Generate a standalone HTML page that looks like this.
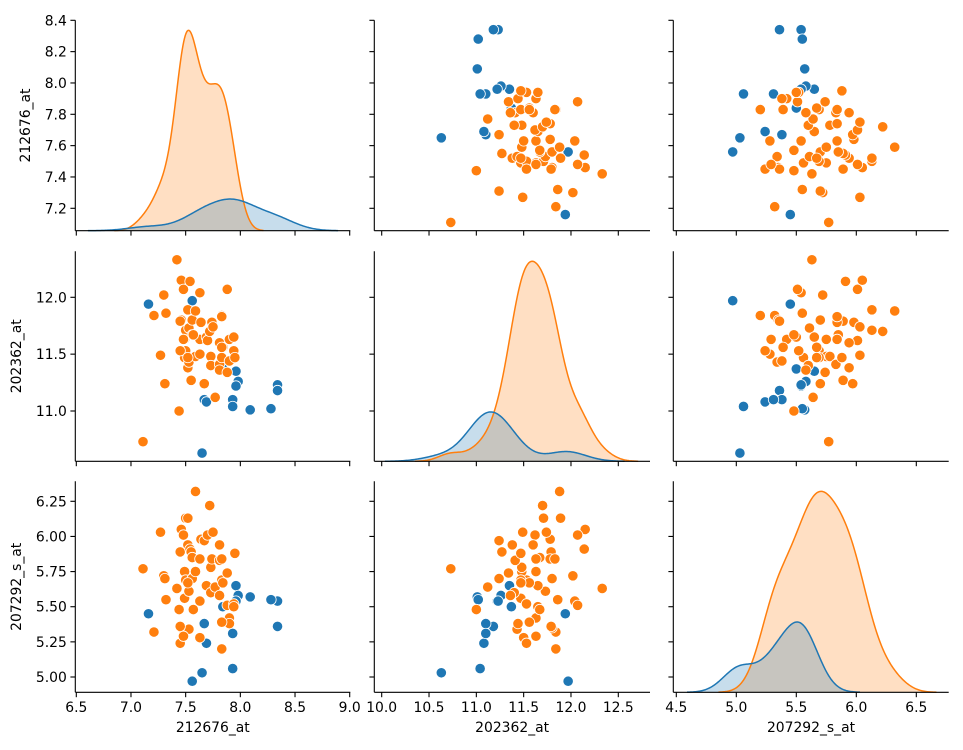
<!DOCTYPE html>
<html><head><meta charset="utf-8">
<style>
html,body{margin:0;padding:0;background:#fff;}
svg{display:block;font-family:"DejaVu Sans","Liberation Sans",sans-serif;}
</style></head>
<body>
<svg id="chart" width="963" height="750" viewBox="0 0 963 750" xmlns="http://www.w3.org/2000/svg"></svg>
<script>
// ---- data: variables 212676_at, 202362_at, 207292_s_at ----
const varNames = ["212676_at", "202362_at", "207292_s_at"];
const blueA = [7.16,7.56,7.96,7.98,7.96,8.34,8.34,7.67,7.69,7.93,7.93,8.09,8.28,7.65,7.84];
const blueB = [11.94,11.97,11.35,11.26,11.22,11.23,11.18,11.10,11.08,11.10,11.04,11.01,11.02,10.63,11.37];
const blueC = [5.45,4.97,5.65,5.58,5.54,5.54,5.36,5.38,5.24,5.31,5.06,5.57,5.55,5.03,5.50];
const orangeA = [7.11,7.21,7.27,7.30,7.31,7.32,7.42,7.44,7.45,7.46,7.46,7.48,7.49,7.49,7.50,7.50,7.52,7.52,7.53,7.53,7.54,7.55,7.56,7.56,7.59,7.59,7.63,7.63,7.63,7.64,7.67,7.69,7.70,7.72,7.73,7.73,7.74,7.75,7.77,7.81,7.81,7.81,7.83,7.83,7.83,7.84,7.88,7.88,7.90,7.90,7.94,7.94,7.95,7.45,7.45,7.48,7.52,7.57,7.83];
const orangeB = [10.73,11.84,11.49,12.02,11.24,11.86,12.33,11.00,11.79,12.15,11.80,12.07,11.63,11.47,11.71,11.53,11.89,11.38,11.73,11.43,12.14,11.27,11.67,11.80,11.48,11.88,12.04,11.63,11.50,11.78,11.24,11.65,11.62,11.70,11.48,11.40,11.78,11.74,11.12,11.60,11.41,11.36,11.84,11.83,11.47,11.56,12.07,11.34,11.63,11.44,11.53,11.65,11.47,11.79,11.53,11.63,11.47,11.67,11.56];
const orangeC = [5.77,5.32,6.03,5.72,5.70,5.55,5.63,5.48,5.89,6.05,5.35,6.01,5.75,5.56,6.13,5.69,6.13,5.94,5.61,5.34,5.91,5.89,5.85,5.70,5.75,6.32,5.54,5.84,5.28,5.98,5.97,5.65,6.01,6.22,5.78,5.60,5.84,6.03,5.64,5.94,5.83,5.58,5.20,5.84,5.69,5.67,5.51,5.74,5.42,5.38,5.52,5.50,5.88,5.36,5.24,5.29,5.67,5.48,5.39];
const xTicks0 = [6.5,7.0,7.5,8.0,8.5,9.0];
const xTicks1 = [10.0,10.5,11.0,11.5,12.0,12.5];
const xTicks2 = [4.5,5.0,5.5,6.0,6.5];
const yTicks0 = [7.2,7.4,7.6,7.8,8.0,8.2,8.4];
const yTicks1 = [11.0,11.5,12.0];
const yTicks2 = [5.00,5.25,5.50,5.75,6.00,6.25];

const NS = "http://www.w3.org/2000/svg";
const svg = document.getElementById("chart");
function mk(tag, attrs, parent) {
  const e = document.createElementNS(NS, tag);
  for (const k in attrs) e.setAttribute(k, attrs[k]);
  (parent || svg).appendChild(e);
  return e;
}
function lin(d0, d1, r0, r1) { return v => r0 + (v - d0) * (r1 - r0) / (d1 - d0); }

// axis geometry
const colPx = [[75.3,350.3],[374.3,650],[673.3,948.7]];
const rowPx = [[20.3,230.7],[251.3,461.3],[481.3,692.3]];
const xScale = [lin(6.5,9.0,76.3,349.7), lin(10,12.5,381.7,618.3), lin(4.5,6.5,676.3,916.3)];
const yScale = [lin(8.4,7.2,20.3,208.3), lin(12,11,297.3,411), lin(6.25,5.0,501.3,677)];
const xTicks = [xTicks0, xTicks1, xTicks2];
const yTicks = [yTicks0, yTicks1, yTicks2];
const xFmt = [v=>v.toFixed(1), v=>v.toFixed(1), v=>v.toFixed(1)];
const yFmt = [v=>v.toFixed(1), v=>v.toFixed(1), v=>v.toFixed(2)];
const blue = [blueA, blueB, blueC];
const orange = [orangeA, orangeB, orangeC];
const BLUE = "#1f77b4", ORANGE = "#ff7f0e";

function kde(vals, N) {
  const n = vals.length;
  const m = vals.reduce((s,v)=>s+v,0)/n;
  const sd = Math.sqrt(vals.reduce((s,v)=>s+(v-m)*(v-m),0)/(n-1));
  const bw = sd * Math.pow(n, -0.2);
  const lo = Math.min(...vals) - 3*bw, hi = Math.max(...vals) + 3*bw;
  const pts = [];
  for (let i = 0; i <= 200; i++) {
    const x = lo + (hi-lo)*i/200;
    let d = 0;
    for (const v of vals) d += Math.exp(-0.5*((x-v)/bw)**2);
    d = d / (n*bw*Math.sqrt(2*Math.PI)) * (n/N);
    pts.push([x,d]);
  }
  return pts;
}

const N = blueA.length + orangeA.length;
for (let r = 0; r < 3; r++) {
  for (let c = 0; c < 3; c++) {
    const g = mk("g", {});
    
    
    const [x0,x1] = colPx[c], [y0,y1] = rowPx[r];
    const xs = xScale[c], ys = yScale[r];
    if (r === c) {
      const kb = kde(blue[c], N), ko = kde(orange[c], N);
      const dmax = Math.max(...kb.map(p=>p[1]), ...ko.map(p=>p[1])) * 1.05;
      const dy = d => y1 - d / dmax * (y1 - y0);
      const path = pts => pts.map((p,i)=>(i?"L":"M")+xs(p[0]).toFixed(2)+","+dy(p[1]).toFixed(2)).join("");
      const fillP = pts => path(pts) + "L" + xs(pts[pts.length-1][0]).toFixed(2) + "," + y1 + "L" + xs(pts[0][0]).toFixed(2) + "," + y1 + "Z";
      const fo = mk("path", {d: fillP(ko), fill: ORANGE, "fill-opacity": 0.25, stroke: "none"}, g);
      
      
      const fb = mk("path", {d: fillP(kb), fill: BLUE, "fill-opacity": 0.25, stroke: "none"}, g);
      
      
      const lo = mk("path", {d: path(ko), fill: "none", stroke: ORANGE, "stroke-width": 1.5}, g);
      
      
      const lb = mk("path", {d: path(kb), fill: "none", stroke: BLUE, "stroke-width": 1.5}, g);
      
      
    } else {
      [[blue, BLUE, 'blue'], [orange, ORANGE, 'orange']].forEach(([set, col, nm]) => {
        for (let i = 0; i < set[0].length; i++) {
          const pt = mk("circle", {cx: xs(set[c][i]).toFixed(2), cy: ys(set[r][i]).toFixed(2), r: 5.2, fill: col, stroke: "#fff", "stroke-width": 0.8}, g);
          
          
        }
      });
    }
    // spines
    const sl = mk("line", {x1: x0, y1: y0, x2: x0, y2: y1, stroke: "#000", "stroke-width": 1.1}, g);
    
    
    const sb = mk("line", {x1: x0, y1: y1, x2: x1, y2: y1, stroke: "#000", "stroke-width": 1.1}, g);
    
    
    // x ticks
    xTicks[c].forEach(v => {
      const px = xs(v);
      const t = mk("line", {x1: px, y1: y1, x2: px, y2: y1 + 4.9, stroke: "#000", "stroke-width": 1.1}, g);
      
      
      if (r === 2) {
        const tl = mk("text", {x: px, y: y1 + 19.5, "text-anchor": "middle", "font-size": 13.9, fill: "#000"}, g);
        tl.textContent = xFmt[c](v);
        
        
      }
    });
    // y ticks
    yTicks[r].forEach(v => {
      const py = ys(v);
      const t = mk("line", {x1: x0 - 4.9, y1: py, x2: x0, y2: py, stroke: "#000", "stroke-width": 1.1}, g);
      
      
      if (c === 0) {
        const tl = mk("text", {x: x0 - 8.5, y: py + 5, "text-anchor": "end", "font-size": 13.9, fill: "#000"}, g);
        tl.textContent = yFmt[r](v);
        
        
      }
    });
  }
}
// axis titles
const yLabX = [30, 21, 21];
for (let r = 0; r < 3; r++) {
  const cy = (rowPx[r][0] + rowPx[r][1]) / 2;
  const t = mk("text", {x: 0, y: 0, transform: `translate(${yLabX[r]},${cy}) rotate(-90)`, "text-anchor": "middle", "font-size": 13.9, fill: "#000"});
  t.textContent = varNames[r];
  
  
}
for (let c = 0; c < 3; c++) {
  const cx = (colPx[c][0] + colPx[c][1]) / 2;
  const t = mk("text", {x: cx, y: 732, "text-anchor": "middle", "font-size": 13.9, fill: "#000"});
  t.textContent = varNames[c];
  
  
}
</script>
</body></html>
